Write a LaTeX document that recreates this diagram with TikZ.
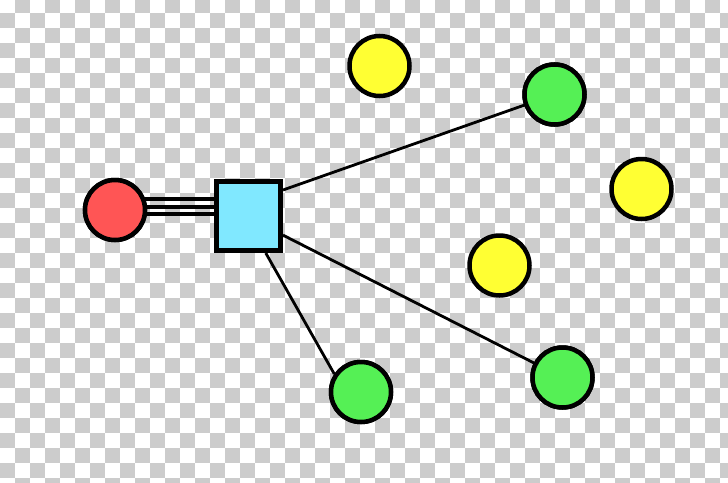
\documentclass[tikz,border=0pt]{standalone}
\definecolor{chk}{RGB}{204,204,204}
\definecolor{cred}{RGB}{255,85,85}
\definecolor{ccyan}{RGB}{128,232,255}
\definecolor{cgreen}{RGB}{85,240,85}
\definecolor{cyel}{RGB}{255,255,51}
\tikzset{
  dot/.style={circle, draw=black, line width=4.5pt, minimum size=60pt, inner sep=0pt},
  hub/.style={rectangle, draw=black, line width=5pt, fill=ccyan, minimum width=64pt, minimum height=69pt, inner sep=0pt},
  link/.style={line width=2.8pt, draw=black},
  tri/.style={line width=4.2pt, draw=black}
}
\begin{document}
\begin{tikzpicture}[x=1pt,y=-1pt]
\useasboundingbox (0,0) rectangle (728,482);
\fill[white] (0,0) rectangle (728,482);
\begin{scope}
\clip (0,0) rectangle (728,482);
\foreach \i in {0,...,48}{
  \foreach \j in {0,...,32}{
    \pgfmathtruncatemacro{\prt}{mod(\i+\j,2)}
    \ifnum\prt=1
      \fill[chk] (15*\i,-2+15*\j) rectangle (15*\i+15,13+15*\j);
    \fi
  }
}
\end{scope}
% nodes (placed first for naming, drawn on top later)
\node[dot, fill=cred] (red) at (115,210) {};
\node[hub] (sq) at (248.5,216) {};
\node[dot, fill=cyel] (y1) at (379.5,66) {};
\node[dot, fill=cgreen] (g1) at (554.5,94.5) {};
\node[dot, fill=cyel] (y2) at (641.5,189) {};
\node[dot, fill=cyel] (y3) at (499.5,265.5) {};
\node[dot, fill=cgreen] (g2) at (361,392) {};
\node[dot, fill=cgreen] (g3) at (562.5,377.5) {};
% connectors
\draw[tri] ([yshift=11pt]red.center) -- ([yshift=17pt]sq.center);
\draw[tri] ([yshift=3pt]red.center) -- ([yshift=9pt]sq.center);
\draw[tri] ([yshift=-4pt]red.center) -- ([yshift=2pt]sq.center);
\draw[link] (sq.37) -- (g1.center);
\draw[link] (sq.-29) -- (g3.center);
\draw[link] (sq.-65) -- (g2.146);
% redraw nodes on top
\node[dot, fill=cred] at (red) {};
\node[hub] at (sq) {};
\node[dot, fill=cgreen] at (g1) {};
\node[dot, fill=cgreen] at (g2) {};
\node[dot, fill=cgreen] at (g3) {};
\end{tikzpicture}
\end{document}
